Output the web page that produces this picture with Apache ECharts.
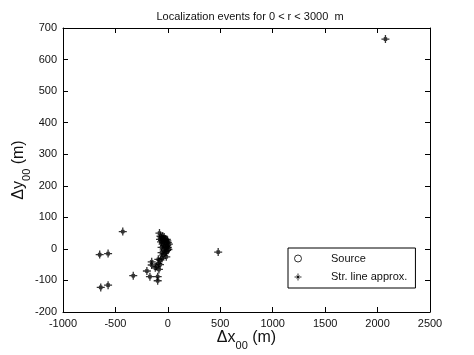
<!DOCTYPE html>
<html><head><meta charset="utf-8">
<script src="https://cdn.jsdelivr.net/npm/echarts@6/dist/echarts.min.js"></script>
<style>html,body{margin:0;padding:0;background:#fff}#c{width:474px;height:355px}</style>
</head><body><div id="c"></div>
<script>
const titleText = 'Localization events for 0 < r < 3000  m';
const xTicks = [-1000, -500, 0, 500, 1000, 1500, 2000, 2500];
const yTicks = [-200, -100, 0, 100, 200, 300, 400, 500, 600, 700];
const sourceName = 'Source';
const approxName = 'Str. line approx.';
const sourcePoints = [[0, 0]];
const approxPoints = [
  [2075, 665], [-430, 55], [-650, -18], [-570, -15], [-640, -122], [-570, -115],
  [-330, -85], [480, -10],
  [-80, 50], [-70, 40], [-60, 35], [-75, 30], [-55, 28], [-45, 32], [-65, 22],
  [-40, 20], [-50, 15], [-30, 25], [-20, 18], [-35, 10], [-15, 8], [-25, 3],
  [-5, 12], [0, 5], [5, -2], [-10, -5], [-20, -10], [10, 15], [-5, 25],
  [-40, -3], [-30, -15], [-45, -20], [-15, -25], [-55, -30], [-60, -12],
  [-70, -35], [-91, -33], [-91, -46], [-107, -56], [-154, -41], [-154, -51],
  [-200, -70], [-171, -88], [-97, -88], [-97, -101], [-85, -65], [-75, -50],
  [-120, -60], [-50, 40], [-35, 38], [-25, 30], [0, 20], [-10, 30], [-60, 5]
];

const star = 'path://M0,-5L0,5M-5,0L5,0M-2,-2L2,2M-2,2L2,-2';
const chart = echarts.init(document.getElementById('c'));
const font = 'Liberation Sans, Arial, sans-serif';
const axisCommon = {
  type: 'value', min: -1000, max: 2500, interval: 500,
  axisLine: {show: true, onZero: false, lineStyle: {color: '#000', width: 1}},
  axisTick: {show: true, inside: true, length: 5, lineStyle: {color: '#000'}},
  splitLine: {show: false}
};
chart.setOption({
  animation: false,
  title: {text: titleText, left: 245, top: 6, textAlign: 'center',
    textStyle: {fontFamily: font, fontSize: 11, fontWeight: 'normal', color: '#111'}},
  grid: {left: 63, right: 44, top: 28, bottom: 43, containLabel: false, outerBoundsMode: 'none'},
  legend: {
    orient: 'vertical', left: 288, top: 248, itemGap: 7, itemWidth: 34, itemHeight: 7,
    padding: [5, 8, 5, 4], borderColor: '#000', borderWidth: 1, backgroundColor: '#fff',
    textStyle: {fontFamily: font, fontSize: 11, color: '#111', padding: [0, 0, 0, 11]},
    data: [
      {name: sourceName, icon: 'circle', itemStyle: {color: '#fff', borderColor: '#000', borderWidth: 1}},
      {name: approxName, icon: star, itemStyle: {color: 'none', borderColor: '#000', borderWidth: 1}}
    ]
  },
  xAxis: [
    Object.assign({}, axisCommon, {position: 'bottom', nameMoveOverlap: false,
      axisLabel: {color: '#111', fontFamily: font, fontSize: 11, margin: 6,
        formatter: v => xTicks.includes(v) ? String(v) : ''},
      name: '{a|Δx}{s|00}{a| (m)}', nameLocation: 'middle', nameGap: 16,
      nameTextStyle: {rich: {
        a: {fontFamily: font, fontSize: 16, color: '#111', lineHeight: 20},
        s: {fontFamily: font, fontSize: 11, color: '#111', lineHeight: 11, padding: [12, 0, 0, 0], verticalAlign: 'top'}
      }}}),
    Object.assign({}, axisCommon, {position: 'top', axisLabel: {show: false}})
  ],
  yAxis: [
    Object.assign({}, axisCommon, {min: -200, max: 700, interval: 100, position: 'left', nameMoveOverlap: false,
      axisLabel: {color: '#111', fontFamily: font, fontSize: 11, margin: 6,
        formatter: v => yTicks.includes(v) ? String(v) : ''},
      name: '{a|Δy}{s|00}{a| (m)}', nameLocation: 'middle', nameGap: 34, nameRotate: 90,
      nameTextStyle: {rich: {
        a: {fontFamily: font, fontSize: 16, color: '#111', lineHeight: 20},
        s: {fontFamily: font, fontSize: 11, color: '#111', lineHeight: 11, padding: [12, 0, 0, 0], verticalAlign: 'top'}
      }}}),
    Object.assign({}, axisCommon, {min: -200, max: 700, interval: 100, position: 'right', axisLabel: {show: false}})
  ],
  series: [
    {name: sourceName, type: 'scatter', data: sourcePoints, symbol: 'circle', symbolSize: 6,
      itemStyle: {color: '#fff', borderColor: '#000', borderWidth: 1}},
    {name: approxName, type: 'scatter', data: approxPoints, symbol: star, symbolSize: 8,
      itemStyle: {color: 'none', borderColor: '#000', borderWidth: 1.3}}
  ]
});
</script></body></html>
